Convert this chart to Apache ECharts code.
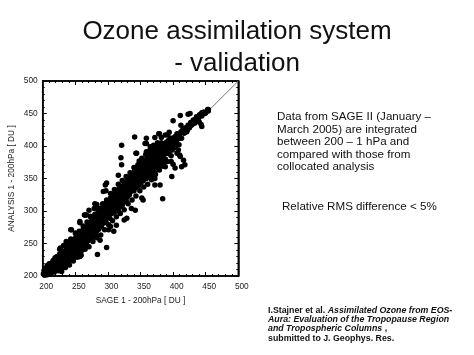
<!DOCTYPE html>
<html><head><meta charset="utf-8">
<script src="https://cdn.jsdelivr.net/npm/echarts@6/dist/echarts.min.js"></script>
<style>html,body{margin:0;padding:0;background:#fff}#c{width:474px;height:355px}</style>
</head><body><div id="c"></div>
<script>
// Axis ticks
const axisTicks = [200, 250, 300, 350, 400, 450, 500];
// 1:1 reference line (SAGE = ANALYSIS)
const refLine = [[200, 200], [500, 500]];
// Dense band of collocated points [SAGE, ANALYSIS] in DU
const bandPoints = [
[201,203],[202,208],[203,201],[204,212],[205,205],[206,210],[207,202],[207,216],[208,207],[209,213],[210,204],[210,219],[211,210],[212,215],[212,203],[213,208],[214,220],[214,212],[215,206],[216,217],[216,224],[217,211],[218,221],[218,206],[219,215],[220,226],[220,210],[221,219],[222,213],[222,230],[223,222],[224,216],[224,208],[225,227],[226,220],[226,234],[227,214],[228,225],[228,218],[229,231],[230,222],[230,212],[231,236],[231,227],[232,219],[233,230],[233,224],[234,239],[234,215],[235,228],[236,233],[236,221],[237,244],[237,226],[238,236],[238,230],[239,222],[240,241],[240,234],[241,227],[241,248],[242,238],[242,231],[243,244],[243,225],[244,236],[244,252],[245,240],[245,230],[246,247],[246,235],[247,242],[247,256],[248,229],[248,250],[249,238],[249,245],[250,253],[250,233],[251,241],[251,260],[252,248],[252,236],[253,255],[253,244],[254,262],[254,239],[255,250],[255,245],[256,258],[256,232],[257,252],[257,242],[258,265],[258,247],[259,255],[259,238],[260,262],[260,250],[261,244],[261,270],[262,257],[262,250],[263,264],[263,243],[264,259],[264,252],[265,272],[265,247],[266,262],[266,256],[267,268],[267,251],[268,260],[268,276],[269,264],[269,254],[270,271],[270,258],[271,266],[271,280],[272,261],[272,256],[273,274],[273,266],[274,283],[274,262],[275,270],[275,256],[276,277],[276,266],[277,286],[277,272],[278,262],[278,280],[279,275],[279,268],[280,290],[280,281],[281,273],[281,264],[282,285],[282,278],[283,294],[283,270],[284,282],[284,276],[285,289],[285,298],[286,280],[286,272],[287,292],[287,285],[288,278],[288,302],[289,290],[289,283],[290,296],[290,276],[291,288],[291,305],[292,293],[292,284],[293,300],[293,281],[294,296],[294,290],[295,307],[295,286],[296,299],[296,292],[297,312],[297,283],[298,302],[298,295],[299,309],[299,290],[300,305],[300,298],[301,316],[301,293],[302,308],[302,300],[303,313],[303,289],[304,306],[304,320],[305,300],[305,311],[306,317],[306,296],[307,309],[307,324],[308,303],[308,314],[309,320],[309,298],[310,311],[310,327],[311,305],[311,317],[312,322],[312,300],[313,314],[313,330],[314,308],[314,319],[315,325],[315,303],[316,316],[316,333],[317,321],[317,311],[318,328],[318,306],[319,318],[319,336],[320,324],[320,313],[321,331],[321,320],[322,309],[322,338],[323,327],[323,318],[324,334],[324,323],[325,314],[325,341],[326,330],[326,321],[327,337],[327,326],[328,345],[328,316],[329,333],[329,328],[330,340],[330,322],[331,348],[331,335],[332,329],[332,343],[333,338],[333,325],[334,351],[334,336],[335,344],[335,330],[336,340],[336,355],[337,333],[337,347],[338,342],[338,358],[339,337],[339,350],[340,345],[340,331],[341,353],[341,361],[342,341],[342,348],[343,356],[343,336],[344,351],[344,364],[345,344],[345,358],[346,349],[346,367],[347,339],[347,355],[348,362],[348,347],[349,357],[349,370],[350,352],[350,343],[351,364],[351,359],[352,373],[352,349],[353,361],[353,355],[354,368],[354,346],[355,358],[355,376],[356,364],[356,352],[357,371],[357,360],[358,356],[358,379],[359,366],[359,350],[360,372],[360,362],[361,382],[361,357],[362,368],[362,375],[363,362],[363,387],[364,371],[364,355],[365,378],[365,366],[366,384],[366,360],[367,373],[367,391],[368,369],[368,380],[369,362],[369,386],[370,375],[370,394],[371,368],[371,381],[372,388],[372,359],[373,377],[373,397],[374,384],[374,370],[375,391],[375,379],[376,366],[376,398],[377,386],[377,375],[378,393],[378,403],[379,381],[379,370],[380,389],[380,398],[381,376],[381,392],[382,385],[382,405],[383,396],[383,380],[384,390],[385,401],[385,385],[386,394],[387,403],[388,392],[388,380],[389,398],[390,406],[390,389],[391,402],[392,395],[393,409],[394,400],[394,388],[395,404],[396,411],[397,398],[398,407],[399,394],[400,410],[401,403],[402,413],[403,398],[404,415],[405,406],[406,419],[408,411],[409,402],[410,418],[412,422],[413,412],[415,425],[417,420],[419,428],[421,424],[423,432],[425,428],[427,436],[429,433],[431,440],[433,436],[436,444],[438,440],[441,448],[444,446],[447,452],[450,451],[453,456],[454,454]
];
// Extra points filling the interior of the band [SAGE, ANALYSIS]
const bandFillPoints = [
[209,209],[215,214],[219,222],[223,218],[227,229],[229,224],[232,233],[235,238],[238,226],[239,240],[242,246],[244,243],[246,232],[248,246],[250,249],[252,242],[254,258],[256,251],[258,241],[260,257],[262,265],[264,247],[266,268],[268,265],[270,262],[272,270],[274,275],[276,260],[278,284],[280,276],[282,268],[284,291],[286,288],[288,284],[290,289],[292,298],[294,284],[296,310],[298,306],[300,292],[302,313],[304,300],[306,322],[308,308],[310,304],[312,316],[314,327],[316,310],[318,320],[320,332],[322,318],[324,329],[326,338],[328,323],[330,334],[332,349],[334,330],[336,344],[338,352],[340,339],[342,357],[344,345],[346,362],[348,352],[350,367],[352,357],[354,362],[356,372],[358,363],[360,378],[362,362],[364,383],[366,372],[368,387],[370,369],[372,392],[374,378],[376,389],[378,374],[380,393],[382,382],[384,397],[386,388],[388,401],[390,395],[392,404],[395,398],[398,412],[401,408]
];
// Points on the edges of the band [SAGE, ANALYSIS]
const bandEdgePoints = [
[226,241],[229,207],[232,247],[235,213],[238,251],[241,217],[243,257],[247,223],[250,266],[253,229],[256,269],[259,232],[262,277],[265,241],[268,283],[271,245],[274,290],[277,253],[280,295],[283,259],[286,304],[289,263],[292,311],[295,271],[298,317],[301,279],[304,327],[307,285],[310,333],[313,291],[316,341],[319,296],[322,347],[325,302],[328,353],[331,311],[334,359],[337,317],[340,367],[343,323],[346,371],[349,331],[352,381],[355,337],[358,387],[361,341],[364,393],[367,348],[370,401],[373,356],[376,405],[379,363],[382,413],[385,369],[388,417],[391,376],[394,421],[397,385],
[233,237],[246,252],[258,259],[271,272],[283,285],[296,305],[308,318],[318,323],[331,341],[343,346],[352,367],[363,379],[372,384],[381,399],[389,404],[239,244],[251,247],[263,269],[276,280],[288,296],[301,309],[313,324],[324,337],[336,347],[348,360],[359,374],[368,390],[379,395]
];
// Scattered points away from the band [SAGE, ANALYSIS]
const outlierPoints = [
[454,456],[447,452],[441,448],[439,443],[426,450],[433,435],[440,437],[444,430],[428,432],[422,425],[417,420],[411,447],[400,439],[412,432],[423,449],[436,445],[444,451],[449,450],[433,440],[443,433],[429,435],[423,430],[421,422],
[413,368],[400,372],[410,386],[404,404],[403,414],[392,417],[379,419],[372,413],[383,400],[385,373],[380,340],[384,319],[372,340],[367,355],[356,358],[352,320],[339,337],[336,304],[329,289],[313,278],[309,269],[304,276],[298,244],[284,233],[267,249],[256,230],
[321,401],[320,382],[316,355],[296,340],[297,331],[283,310],[279,304],[273,292],[265,294],[257,284],[262,261],[243,271],[236,253],[227,243],[219,228],[211,219],
[341,414],[359,404],[371,399],[359,391],[348,377],[360,371],[343,389],[321,371],[298,343],[293,330],[280,311],[271,301],[267,294],[354,317],[342,301],[325,286],[316,300],[372,350],
[378,419],[359,412],[357,404],[365,399],[344,389],[403,399],[408,394],[406,389],[411,384],[397,376],[416,378],[418,371],[388,368],[403,366],[398,353],
[257,282],[264,294],[244,271],[257,230],[241,225],[288,255],[301,271]
];

const chart = echarts.init(document.getElementById('c'), null, {renderer: 'canvas'});
const FONT = 'Liberation Sans, Arial, Helvetica, sans-serif';
const axisCommon = {
  type: 'value', min: 200, max: 500, interval: 50,
  axisLine: {show: true, onZero: false, lineStyle: {color: '#000', width: 1.5}},
  axisTick: {show: true, inside: true, length: 4, lineStyle: {color: '#000', width: 1}},
  minorTick: {show: true, splitNumber: 5, length: 2, lineStyle: {color: '#000', width: 1}},
  splitLine: {show: false}
};
const dotStyle = {color: '#000', opacity: 1};
chart.setOption({
  animation: false,
  backgroundColor: '#fff',
  title: [
    {text: 'Ozone assimilation system\n- validation', left: 'center', top: 11,
     textStyle: {fontFamily: FONT, fontSize: 26, fontWeight: 'normal', color: '#111', lineHeight: 32}},
    {text: 'Data from SAGE II (January –\nMarch 2005) are integrated\nbetween 200 – 1 hPa and\ncompared with those from\ncollocated analysis',
     left: 272, top: 106,
     textStyle: {fontFamily: FONT, fontSize: 11.6, fontWeight: 'normal', color: '#111', lineHeight: 12.5}},
    {text: 'Relative RMS difference < 5%', left: 277, top: 196,
     textStyle: {fontFamily: FONT, fontSize: 11.6, fontWeight: 'normal', color: '#111'}},
    {text: '{n|I.Stajner et al. }{i|Assimilated Ozone from EOS-}\n{i|Aura: Evaluation of the Tropopause Region}\n{i|and Tropospheric Columns}{n| ,}\n{n|submitted to J. Geophys. Res.}',
     left: 263, top: 301,
     textStyle: {fontFamily: FONT, fontSize: 8.8, fontWeight: 'bold', color: '#111', lineHeight: 9.2,
       rich: {
         n: {fontFamily: FONT, fontSize: 8.8, fontWeight: 'bold', color: '#111', lineHeight: 9.2},
         i: {fontFamily: FONT, fontSize: 8.8, fontWeight: 'bold', fontStyle: 'italic', color: '#111', lineHeight: 9.2}
       }}}
  ],
  grid: {left: 42.7, right: 235.7, top: 81, bottom: 79, show: true, borderColor: '#000', borderWidth: 1.5, backgroundColor: '#fff'},
  xAxis: [
    Object.assign({}, axisCommon, {
      position: 'bottom', name: 'SAGE 1 - 200hPa [ DU ]', nameLocation: 'middle', nameGap: 21,
      nameTextStyle: {fontFamily: FONT, fontSize: 8.3, color: '#222'},
      axisLabel: {fontFamily: FONT, fontSize: 8.3, color: '#222', margin: 7, padding: [0, 0, 0, 7],
        formatter: v => axisTicks.includes(v) ? String(v) : ''}
    }),
    Object.assign({}, axisCommon, {position: 'top', axisLabel: {show: false}})
  ],
  yAxis: [
    Object.assign({}, axisCommon, {
      position: 'left', name: 'ANALYSIS 1 - 200hPa [ DU ]', nameLocation: 'middle', nameGap: 27,
      nameTextStyle: {fontFamily: FONT, fontSize: 8.3, color: '#222'},
      axisLabel: {fontFamily: FONT, fontSize: 8.3, color: '#222', margin: 5,
        formatter: v => axisTicks.includes(v) ? String(v) : ''}
    }),
    Object.assign({}, axisCommon, {position: 'right', axisLabel: {show: false}})
  ],
  series: [
    {type: 'line', data: refLine, xAxisIndex: 0, yAxisIndex: 0, symbol: 'none',
     lineStyle: {color: '#777', width: 1}, z: 1, silent: true},
    {type: 'scatter', data: bandPoints, symbol: 'circle', symbolSize: 5.5, itemStyle: dotStyle, z: 2, silent: true},
    {type: 'scatter', data: bandFillPoints, symbol: 'circle', symbolSize: 5.5, itemStyle: dotStyle, z: 2, silent: true},
    {type: 'scatter', data: bandEdgePoints, symbol: 'circle', symbolSize: 5.5, itemStyle: dotStyle, z: 2, silent: true},
    {type: 'scatter', data: outlierPoints, symbol: 'circle', symbolSize: 5.5, itemStyle: dotStyle, z: 2, silent: true}
  ]
});
</script></body></html>
